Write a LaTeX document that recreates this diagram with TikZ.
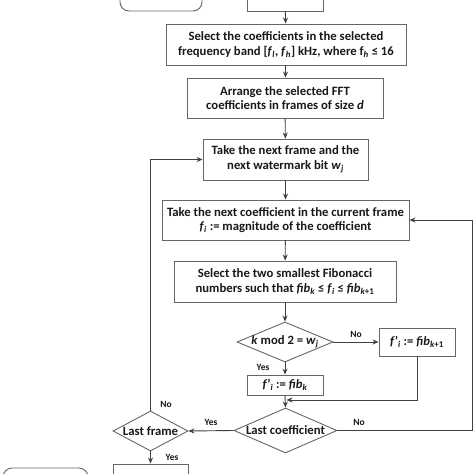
\documentclass[tikz,border=0pt]{standalone}
\usepackage{fontspec}
\setmainfont{Carlito}
\usetikzlibrary{shapes.geometric,arrows.meta}
\begin{document}
\begin{tikzpicture}[x=1pt,y=-1pt,
  font=\bfseries\fontsize{12.7}{14.5}\selectfont,
  every node/.style={text=black!90},
  box/.style={draw=black!60,line width=0.9pt,fill=white,inner sep=0pt,align=center},
  rbox/.style={box,rounded corners=9pt},
  dia/.style={draw=black!60,line width=0.9pt,shape=diamond,inner sep=0pt},
  arr/.style={draw=black!75,line width=0.9pt,-{Stealth[length=6pt,width=5pt]}},
  lab/.style={font=\bfseries\fontsize{9.5}{10}\selectfont,inner sep=0pt}]
\useasboundingbox (0,0) rectangle (474,474);
\clip (0,0) rectangle (474,474);
\fill[white] (0,0) rectangle (474,474);
% cut-off top and bottom
\node[rbox,minimum width=82pt,minimum height=31pt] (orig) at (161,-4.5) {};
\node[box,minimum width=76pt,minimum height=31pt] (fft) at (285,-4.5) {};
\node[box,minimum width=75pt,minimum height=31pt] (ifft) at (150.5,479.5) {};
\node[rbox,minimum width=85pt,minimum height=31pt] (wm) at (45.5,483.5) {};
% main boxes
\node[box,minimum width=240pt,minimum height=41pt] (b1) at (286,44.5)
  {Select the coefficients in the selected\\frequency band [\textit{f}\textsubscript{\textit{l}}, \textit{f}\textsubscript{\textit{h}}] kHz, where f\textsubscript{\textit{h}} ≤ 16};
\node[box,minimum width=196pt,minimum height=40pt] (b2) at (285,98)
  {Arrange the selected FFT\\coefficients in frames of size \textit{d}};
\node[box,minimum width=165pt,minimum height=41pt] (b3) at (285.5,159.5)
  {Take the next frame and the\\next watermark bit \textit{w}\textsubscript{\textit{j}}};
\node[box,minimum width=247pt,minimum height=40pt] (b4) at (285.5,220)
  {Take the next coefficient in the current frame\\\textit{f}\textsubscript{\textit{i}} := magnitude of the coefficient};
\node[box,minimum width=222pt,minimum height=41pt] (b5) at (285,281.5)
  {Select the two smallest Fibonacci\\numbers such that \textit{fib}\textsubscript{\textit{k}} ≤ \textit{f}\textsubscript{\textit{i}} ≤ \textit{fib}\textsubscript{\textit{k}+1}};
\node[dia,minimum width=96pt,minimum height=40pt,label=center:{\textit{k} mod 2 = \textit{w}\textsubscript{\textit{j}}}] (d1) at (285,342) {};
\node[box,minimum width=76pt,minimum height=28pt] (b6) at (417,342)
  {\textit{f}'\textsubscript{\textit{i}} := \textit{fib}\textsubscript{\textit{k}+1}};
\node[box,minimum width=76pt,minimum height=20pt] (b7) at (285,385)
  {\textit{f}'\textsubscript{\textit{i}} := \textit{fib}\textsubscript{\textit{k}}};
\node[dia,minimum width=103pt,minimum height=45pt,label=center:{Last coefficient}] (d2) at (285.5,430.5) {};
\node[dia,minimum width=75pt,minimum height=40pt,label=center:{Last frame}] (d3) at (150.5,431) {};
\coordinate (j) at (286.5,400);
\coordinate (rr) at (472,430.5);
% connectors
\draw[arr] (fft) -- (b1);
\draw[arr] (b1) -- (b2);
\draw[arr] (b2) -- (b3);
\draw[arr] (b3) -- (b4);
\draw[arr] (b4) -- (b5);
\draw[arr] (b5) -- (d1);
\draw[arr] (d1.east) -- (b6.west);
\draw[arr] (d1.south) -- (b7.north);
\draw[arr] (b7.south) -- (d2.north);
\draw[arr] (b6.south) |- (j);
\draw[arr] (d2.east) -- (rr) |- (b4.east);
\draw[arr] (d2.west) -- (d3.east);
\draw[arr] (d3.north) |- (b3.west);
\draw[arr] (d3.south) -- (ifft.north);
% labels
\node[lab] at (356,334) {No};
\node[lab] at (263,367) {Yes};
\node[lab] at (359,422) {No};
\node[lab] at (211,422) {Yes};
\node[lab] at (166,404) {No};
\node[lab] at (172,457) {Yes};
\end{tikzpicture}
\end{document}
